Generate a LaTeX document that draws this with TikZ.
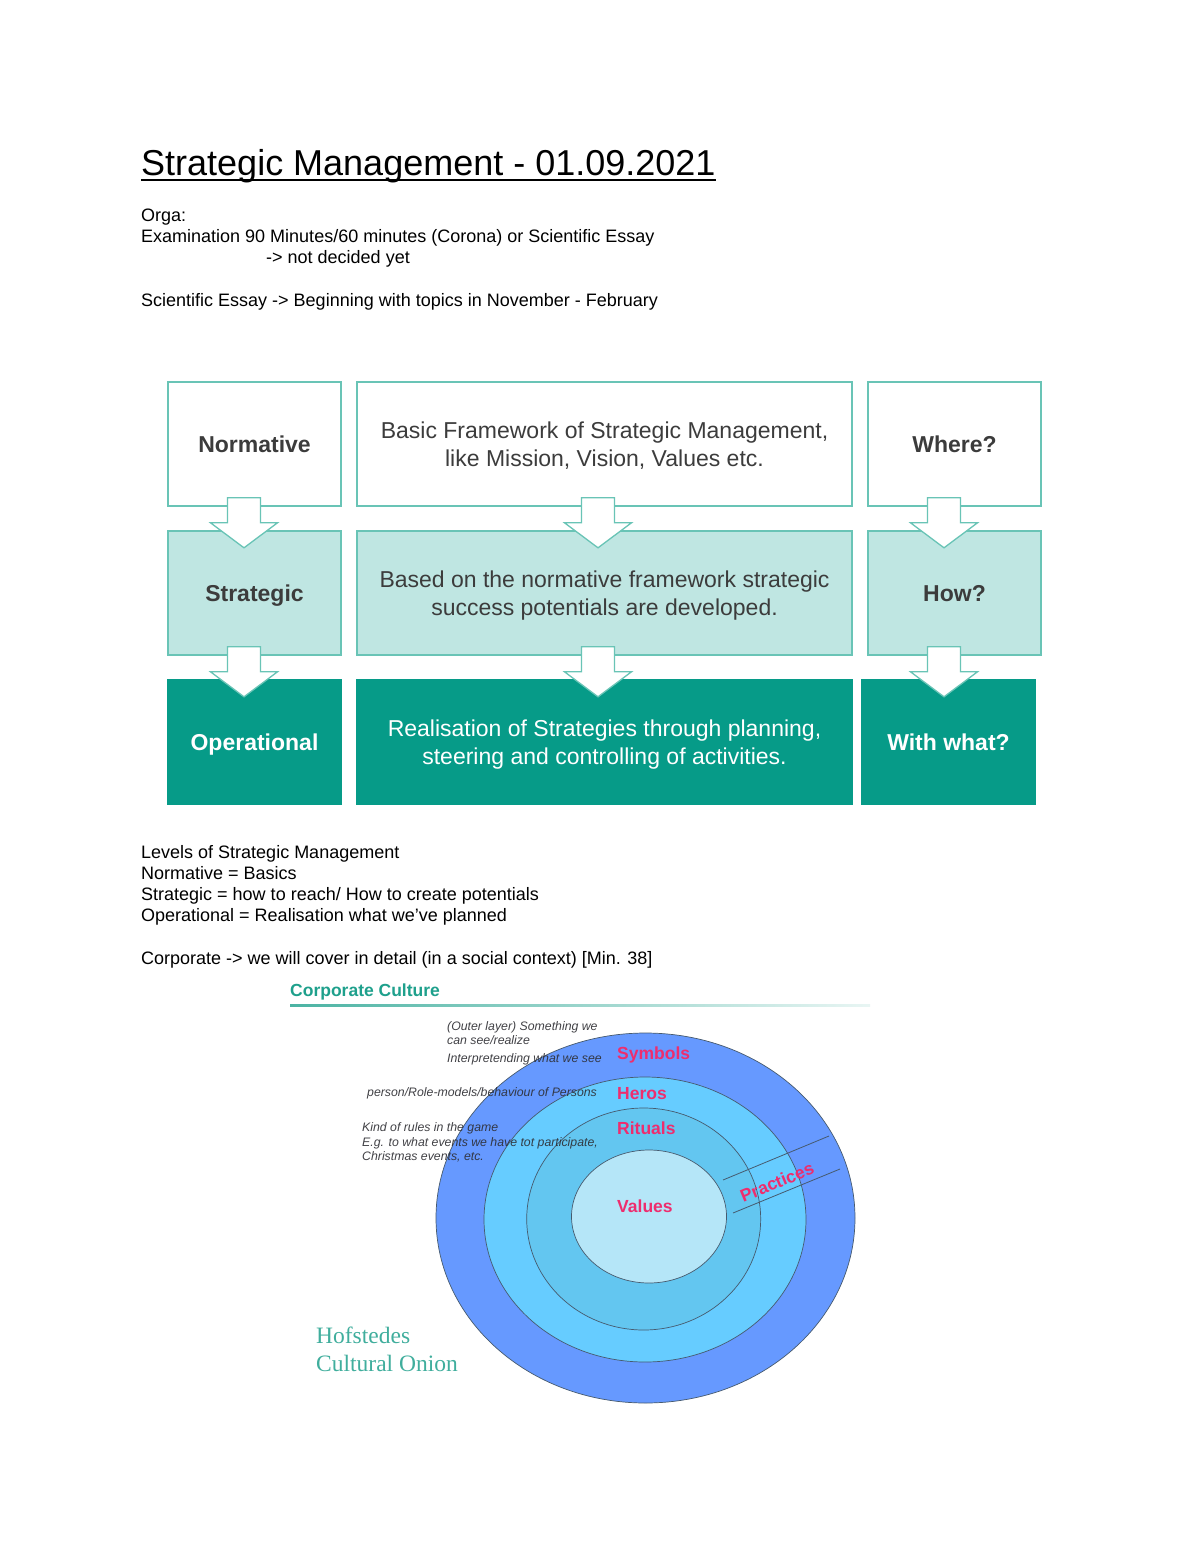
\documentclass[tikz,border=0pt]{standalone}
\usepackage{fontspec}
\setmainfont{Liberation Sans}
\newfontfamily\hofserif{Liberation Serif}
\usetikzlibrary{calc,positioning}
\definecolor{tealline}{RGB}{105,196,182}
\definecolor{tealpale}{RGB}{191,230,226}
\definecolor{tealdark}{RGB}{6,155,136}
\definecolor{textgray}{RGB}{60,60,60}
\definecolor{notegray}{RGB}{45,45,50}
\definecolor{onionout}{RGB}{102,153,255}
\definecolor{onionhero}{RGB}{102,204,255}
\definecolor{onionrit}{RGB}{99,198,240}
\definecolor{onionval}{RGB}{181,230,248}
\definecolor{ringedge}{RGB}{70,90,110}
\definecolor{labelpink}{RGB}{238,45,110}
\definecolor{cctitle}{RGB}{30,160,140}

\begin{document}
\begin{tikzpicture}[x=1pt,y=-1pt,
  body/.style={anchor=base west,inner sep=0pt,font=\fontsize{18}{21}\selectfont},
  lvlbox/.style={draw=tealline,line width=1.6pt,minimum height=124pt,align=center,text=textgray,text depth=0pt,font=\fontsize{23}{28}\selectfont,inner sep=0pt},
  blockarrow/.style={fill=white,draw=tealline,line width=1.3pt,line join=miter},
  note/.style={anchor=base west,inner sep=0pt,text=notegray,opacity=0.9,font=\fontsize{12.3}{14}\selectfont\itshape},
  ring/.style={draw=ringedge,line width=0.7pt},
  ringlabel/.style={anchor=west,inner sep=0pt,text=labelpink,font=\fontsize{17.5}{20}\selectfont\bfseries}]
\useasboundingbox[fill=white] (0,0) rectangle (1200,1553);
% Title
\node[anchor=base west,inner sep=0pt,font=\fontsize{36}{40}\selectfont] (title) at (141,175) {Strategic Management - 01.09.2021};
\draw[line width=1.8pt] ([yshift=-5pt]title.base west) -- ([yshift=-5pt]title.base east);
% Orga
\node[body] (orga) at (141,221) {Orga:};
\node[body] (exam) at (141,242) {Examination 90 Minutes/60 minutes (Corona) or Scientific Essay};
\node[body] (ndec) at (266,263) {-> not decided yet};
\node[body] (essay) at (141,306) {Scientific Essay -> Beginning with topics in November - February};
% Levels: boxes
\node[lvlbox,minimum width=173pt] (nor) at (254.5,444) {\bfseries Normative};
\node[lvlbox,minimum width=495pt] (nbf) at (604.5,444) {Basic Framework of Strategic Management,\\ like Mission, Vision, Values etc.};
\node[lvlbox,minimum width=173pt] (whr) at (954.5,444) {\bfseries Where?};
\node[lvlbox,fill=tealpale,minimum width=173pt] (str) at (254.5,593) {\bfseries Strategic};
\node[lvlbox,fill=tealpale,minimum width=495pt] (sbf) at (604.5,593) {Based on the normative framework strategic\\ success potentials are developed.};
\node[lvlbox,fill=tealpale,minimum width=173pt] (how) at (954.5,593) {\bfseries How?};
\node[lvlbox,draw=tealdark,fill=tealdark,text=white,minimum width=173pt] (ope) at (254.5,742) {\bfseries Operational};
\node[lvlbox,draw=tealdark,fill=tealdark,text=white,minimum width=495pt] (obf) at (604.5,742) {Realisation of Strategies through planning,\\ steering and controlling of activities.};
\node[lvlbox,draw=tealdark,fill=tealdark,text=white,minimum width=173pt] (wth) at (948.5,742) {\bfseries With what?};
% block arrows between the levels
\foreach \a/\dx in {nor/-10.5,nbf/-6.5,whr/-10.5,str/-10.5,sbf/-6.5,how/-10.5}{
  \draw[blockarrow,shift={($(\a.south)+(\dx,0)$)}] (-16.5,-9) -- (16.5,-9) -- (16.5,16) -- (33.5,16) -- (0,41) -- (-33.5,16) -- (-16.5,16) -- cycle;
}
% Levels text
\foreach \t [count=\i] in {Levels of Strategic Management,Normative = Basics,{Strategic = how to reach/ How to create potentials},Operational = Realisation what we've planned}{
  \node[body] (lvl\i) at (141,858+21*\i-21) {\t};
}
\node[body] (corp) at (141,964) {Corporate -> we will cover in detail (in a social context) [Min. 38]};
% Corporate Culture
\node[anchor=base west,inner sep=0pt,text=cctitle,font=\fontsize{17.5}{20}\selectfont\bfseries] (cc) at (290,996) {Corporate Culture};
\shade[left color=cctitle!80,right color=cctitle!10] (290,1004) rectangle (870,1006.5);
% onion
\draw[ring,fill=onionout] (645.5,1218) ellipse [x radius=209.5pt,y radius=185pt];
\draw[ring,fill=onionhero] (645,1219.5) ellipse [x radius=161pt,y radius=142.5pt];
\draw[ring,fill=onionrit] (643.7,1219) ellipse [x radius=117pt,y radius=111pt];
\draw[ring,fill=onionval] (649,1216.5) ellipse [x radius=77.5pt,y radius=66.5pt];
% practices band
\coordinate (p1a) at (723,1180);
\coordinate (p1b) at (829,1136);
\coordinate (p2a) at (733,1213);
\coordinate (p2b) at (840,1169);
\draw[ringedge,line width=0.8pt] (p1a) -- (p1b);
\draw[ringedge,line width=0.8pt] (p2a) -- (p2b);
% ring labels
\foreach \n/\y/\t in {sym/1055/Symbols,her/1094/Heros,rit/1128/Rituals,val/1206/Values}{
  \node[ringlabel] (\n) at (617,\y) {\t};
}
\node[ringlabel,anchor=center,rotate=22.5] (pra) at (777,1182) {Practices};
% notes
\foreach \n/\x/\y/\t in {o1/447/1030/{(Outer layer) Something we},o2/447/1044/{can see/realize},o3/447/1062/{Interpretending what we see},p1/367/1096/{person/Role-models/behaviour of Persons},k1/362/1131/{Kind of rules in the game},k2/362/1146/{E.g. to what events we have tot participate,},k3/362/1160/{Christmas events, etc.}}{
  \node[note] (\n) at (\x,\y) {\t};
}
% Hofstede
\node[anchor=base west,inner sep=0pt,text=cctitle!85,font=\fontsize{23.5}{28}\hofserif] (hof1) at (316,1343) {Hofstedes};
\node[anchor=base west,inner sep=0pt,text=cctitle!85,font=\fontsize{23.5}{28}\hofserif] (hof2) at (316,1371) {Cultural Onion};
\end{tikzpicture}
\end{document}
